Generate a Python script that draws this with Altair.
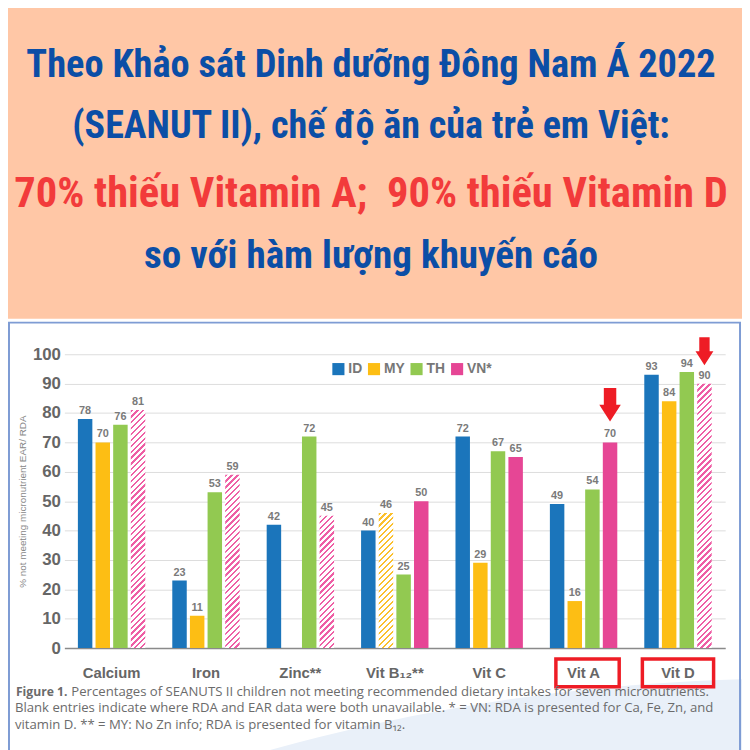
import math
import altair as alt
import pandas as pd

# ---------------- data ----------------
title_lines = [
    "Theo Khảo sát Dinh dưỡng Đông Nam Á 2022",
    "(SEANUT II), chế độ ăn của trẻ em Việt:",
    "70% thiếu Vitamin A;\u00a0 90% thiếu Vitamin D",
    "so với hàm lượng khuyến cáo",
]
nutrients = ["Calcium", "Iron", "Zinc**", "Vit B₁₂**", "Vit C", "Vit A", "Vit D"]
countries = ["ID", "MY", "TH", "VN*"]
id_vals = [78, 23, 42, 40, 72, 49, 93]
my_vals = [70, 11, None, 46, 29, 16, 84]
th_vals = [76, 53, 72, 25, 67, 54, 94]
vn_vals = [81, 59, 45, 50, 65, 70, 90]
hatched = [("Calcium", "VN*"), ("Iron", "VN*"), ("Zinc**", "VN*"),
           ("Vit B₁₂**", "MY"), ("Vit D", "VN*")]
boxed = ["Vit A", "Vit D"]
arrow_nutrients = ["Vit A", "Vit D"]
arrow_values = [82.8, 101.0]
y_title = "% not meeting micronutrient EAR/ RDA"
cap_bold = "Figure 1."
cap_lines = [
    "Percentages of SEANUTS II children not meeting recommended dietary intakes for seven micronutrients.",
    "Blank entries indicate where RDA and EAR data were both unavailable. * = VN: RDA is presented for Ca, Fe, Zn, and",
    "vitamin D. ** = MY: No Zn info; RDA is presented for vitamin B₁₂.",
]

# ---------------- style ----------------
colors = ["#1B75BB", "#FDBE14", "#92C951", "#E64695"]
hatch_colors = {"MY": "#FBC02D", "VN*": "#EE5FA5"}
PEACH = "#FFC7A6"
BLUE_T = "#0B4EA6"
RED_T = "#F23B3B"
RED = "#EE1C25"
F = "Liberation Sans"
HF = "Roboto Condensed, Roboto, sans-serif"
CF = "Open Sans"

W, H = 668, 297
PI_X, PO_X, PI_O = 0.286, 0.143, 0.18
step = W / (len(nutrients) - PI_X + 2 * PO_X)
band = step * (1 - PI_X)
bar_w = band / (4 - PI_O) * (1 - PI_O)

rows = []
for i, n in enumerate(nutrients):
    for c, vals in zip(countries, [id_vals, my_vals, th_vals, vn_vals]):
        v = vals[i]
        if v is None:
            continue
        rows.append({"nutrient": n, "country": c, "value": v, "hatch": (n, c) in hatched})
df = pd.DataFrame(rows)
one = pd.DataFrame({"a": [0]})

x_enc = alt.X("nutrient:N", sort=nutrients,
              scale=alt.Scale(domain=nutrients, paddingInner=PI_X, paddingOuter=PO_X),
              axis=alt.Axis(title=None, labelAngle=0, labelFont=F, labelFontSize=15,
                            labelFontWeight="bold", labelColor="#666666", labelPadding=18,
                            ticks=False, domainColor="#8a8a8a", domainWidth=1.5, labelLimit=200))
xo_enc = alt.XOffset("country:N", scale=alt.Scale(domain=countries, paddingInner=PI_O, paddingOuter=0))
y_enc = alt.Y("value:Q", scale=alt.Scale(domain=[0, 100], nice=False),
              axis=alt.Axis(title=y_title, titleFont=F, titleFontSize=10, titleFontWeight="normal",
                            titleColor="#888888", titlePadding=5, values=list(range(0, 101, 10)),
                            labelFont=F, labelFontSize=17, labelFontWeight="bold",
                            labelColor="#666666", labelPadding=4, ticks=False, domain=False,
                            grid=True, gridColor="#dddddd", gridWidth=1))
color_enc = alt.Color("country:N", scale=alt.Scale(domain=countries, range=colors),
                      legend=alt.Legend(title=None, orient="none", legendX=270, legendY=8,
                                        direction="horizontal", columns=4, symbolType="square",
                                        symbolSize=150, symbolStrokeWidth=0, symbolOpacity=1,
                                        labelFont=F, labelFontSize=14, labelFontWeight="bold",
                                        labelColor="#777777", labelOffset=3, columnPadding=5,
                                        padding=0))

layers = []
# header background and text
layers.append(alt.Chart(one).mark_rect(color=PEACH).encode(
    x=alt.value(-70), x2=alt.value(700), y=alt.value(-360), y2=alt.value(-36)))
title_y = [-292, -231, -162, -99]
title_c = [BLUE_T, BLUE_T, RED_T, BLUE_T]
title_s = [38.8, 38.5, 43, 39.5]
for line, yy, cc, ss in zip(title_lines, title_y, title_c, title_s):
    layers.append(alt.Chart(pd.DataFrame({"t": [line]})).mark_text(
        font=HF, fontSize=ss, fontWeight="bold", color=cc, align="center", baseline="middle"
    ).encode(x=alt.value(310), y=alt.value(yy), text="t:N"))

# pale decoration and panel border
layers.append(alt.Chart(one).mark_arc(radius=1964, theta=0, theta2=6.2832, color="#E9F0F9",
                                      opacity=1).encode(
    x=alt.value(735), y=alt.value(2292)))
layers.append(alt.Chart(one).mark_rect(fillOpacity=0, stroke="#7E9CD4", strokeWidth=2).encode(
    x=alt.value(-56), x2=alt.value(683), y=alt.value(-32), y2=alt.value(420)))

base = alt.Chart(df)
layers.append(base.transform_filter("!datum.hatch").mark_bar().encode(
    x=x_enc, xOffset=xo_enc, y=y_enc, color=color_enc))

for (n, c) in hatched:
    v = df[(df.nutrient == n) & (df.country == c)].value.iloc[0]
    h = v / 100 * H
    r = h / bar_w
    s = (1 + r) / (1 + r * r)
    length = (bar_w + h) / math.sqrt(2)
    N = max(1, round(length / 4.2))
    stops = []
    for k in range(N):
        a, b, e = k / N, (k + 0.4) / N, (k + 1) / N
        stops += [alt.GradientStop(offset=round(a, 5), color=hatch_colors[c]),
                  alt.GradientStop(offset=round(b, 5), color=hatch_colors[c]),
                  alt.GradientStop(offset=round(b, 5), color="#ffffff"),
                  alt.GradientStop(offset=round(e, 5), color="#ffffff")]
    grad = alt.LinearGradient(gradient="linear", stops=stops, x1=0, y1=0, x2=s, y2=s * r)
    layers.append(base.transform_filter((alt.datum.nutrient == n) & (alt.datum.country == c))
                  .mark_bar(fill=grad).encode(x=x_enc, xOffset=xo_enc, y=y_enc))

layers.append(base.mark_text(font=F, fontSize=11, fontWeight="bold", color="#7a7a7a",
                             baseline="bottom", dy=-3).encode(
    x=x_enc, xOffset=xo_enc, y=y_enc, text="value:Q"))

# arrows
arrows = pd.DataFrame({"nutrient": arrow_nutrients, "country": ["VN*", "VN*"], "value": arrow_values})
arrow_path = "M-0.37,-1L0.37,-1L0.37,0L0.64,0L0,1L-0.64,0L-0.37,0Z"
for n, sz in zip(arrow_nutrients, [1156, 800]):
    layers.append(alt.Chart(arrows).transform_filter(alt.datum.nutrient == n).mark_point(
        shape=arrow_path, filled=True, color=RED, opacity=1, size=sz, strokeWidth=0
    ).encode(x=x_enc, xOffset=xo_enc, y=y_enc))

# red boxes around x labels
box_df = pd.DataFrame({"nutrient": boxed})
for n, bw, off in zip(boxed, [64, 72], [4, 0]):
    layers.append(alt.Chart(box_df).transform_filter(alt.datum.nutrient == n).mark_bar(
        fillOpacity=0, stroke=RED, strokeWidth=3.5, width=bw, xOffset=off
    ).encode(x=x_enc, y=alt.value(308), y2=alt.value(336)))

# caption
cap_y = [341, 358, 375]
layers.append(alt.Chart(pd.DataFrame({"t": [cap_bold]})).mark_text(
    font=CF, fontSize=12.3, fontWeight="bold", color="#6b6b6b", align="left", baseline="middle"
).encode(x=alt.value(-49), y=alt.value(cap_y[0]), text="t:N"))
for i, (line, yy) in enumerate(zip(cap_lines, cap_y)):
    layers.append(alt.Chart(pd.DataFrame({"t": [line]})).mark_text(
        font=CF, fontSize=13.3, color="#6b6b6b", align="left", baseline="middle"
    ).encode(x=alt.value(7 if i == 0 else -50), y=alt.value(yy), text="t:N"))

chart = alt.layer(*layers).properties(
    width=W, height=H,
    padding={"left": 57, "top": 346, "right": 17, "bottom": 99},
    autosize=alt.AutoSizeParams(type="none"),
    background="white",
).configure_view(strokeWidth=0)

chart.save("out.html", embed_options={"renderer": "svg", "actions": False})
